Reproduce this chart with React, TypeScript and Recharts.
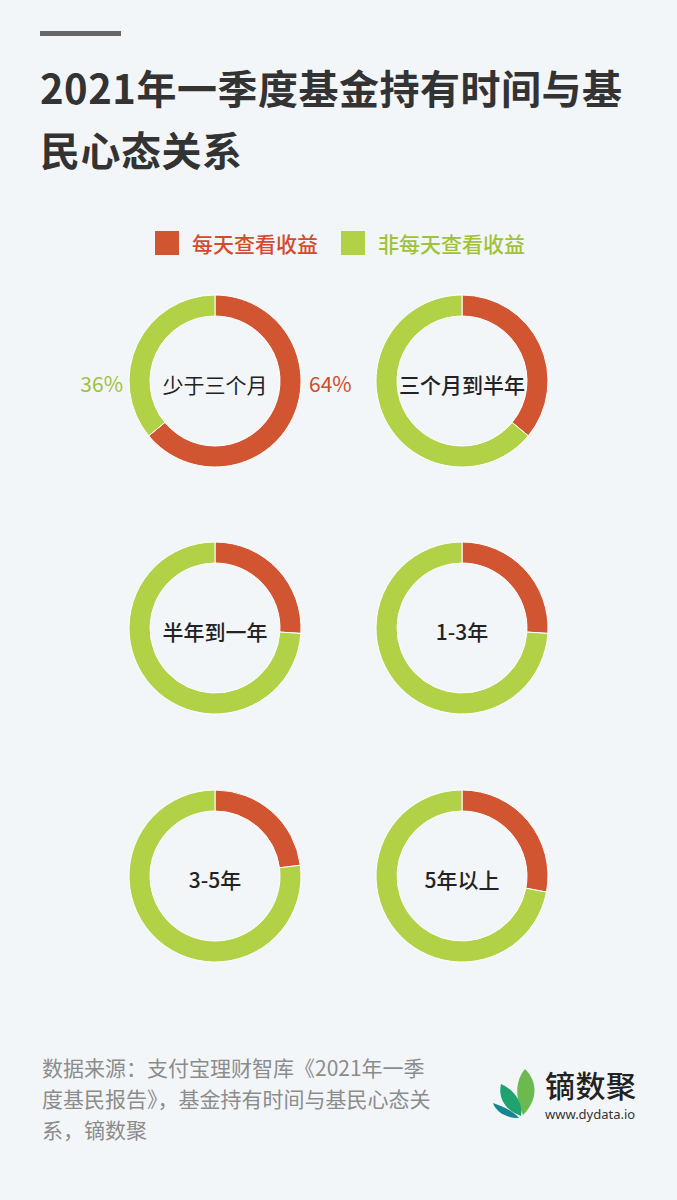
import React from 'react';
import { PieChart, Pie, Cell } from 'recharts';

// 持有时间分组
const categories = ['少于三个月', '三个月到半年', '半年到一年', '1-3年', '3-5年', '5年以上'];
// 每天查看收益 (%)
const dailyShare = [64, 36, 26, 26, 23, 28];
// 非每天查看收益 (%)
const nonDailyShare = [36, 64, 74, 74, 77, 72];
const seriesNames = ['每天查看收益', '非每天查看收益'];

const sliceColors = ['#d15530', '#b1d147'];
const textColors = ['#d24b2b', '#9fc23b'];
const bg = '#f3f6f9';
const font = '"Noto Sans CJK SC", "Noto Sans", sans-serif';

const centers: Array<[number, number]> = [
  [215, 381],
  [462, 381],
  [215, 628],
  [462, 628],
  [215, 876],
  [462, 876],
];

// centre caption + (first ring only) the share labels either side
const makeLabel = (pieIndex: number) => (props: any) => {
  const { cx, cy, outerRadius, index, value } = props;
  const caption =
    index === 0 ? (
      <text
        x={cx}
        y={cy + 12}
        textAnchor="middle"
        fill="#222"
        fontSize={21}
        fontWeight={pieIndex === 0 ? 400 : 500}
        fontFamily={font}
      >
        {categories[pieIndex]}
      </text>
    ) : null;
  if (pieIndex !== 0) return caption ?? <g />;
  const right = index === 0;
  return (
    <g>
      {caption}
      <text
        x={right ? cx + outerRadius + 8 : cx - outerRadius - 6}
        y={cy + 11}
        textAnchor={right ? 'start' : 'end'}
        fill={textColors[index]}
        fontSize={21}
        fontFamily={font}
      >
        {`${value}%`}
      </text>
    </g>
  );
};

function Logo() {
  return (
    <div style={{ position: 'absolute', left: 492, top: 1066, width: 150, height: 56 }}>
      <svg width={48} height={54} style={{ position: 'absolute', left: 0, top: 0 }}>
        <path d="M33 3 C 46 16, 46 34, 31 49 C 24 34, 22 16, 33 3 Z" fill="#6cb94f" />
        <path d="M29 50 C 12 44, 6 31, 9 18 C 23 24, 31 37, 29 50 Z" fill="#1fa26f" />
        <path d="M27 52 C 14 52, 4 46, 1 37 C 12 41, 21 45, 27 52 Z" fill="#17868f" />
      </svg>
      <div
        style={{
          position: 'absolute',
          left: 53,
          top: 2,
          fontSize: 30,
          lineHeight: '32px',
          fontWeight: 500,
          color: '#222',
          whiteSpace: 'nowrap',
          letterSpacing: 0.5,
        }}
      >
        镝数聚
      </div>
      <div
        style={{
          position: 'absolute',
          left: 53,
          top: 41,
          fontSize: 13,
          lineHeight: '15px',
          color: '#333',
          fontFamily: '"Noto Sans", sans-serif',
          whiteSpace: 'nowrap',
        }}
      >
        www.dydata.io
      </div>
    </div>
  );
}

export default function App() {
  return (
    <div
      style={{
        position: 'absolute',
        left: 0,
        top: 0,
        width: 677,
        height: 1200,
        background: bg,
        fontFamily: font,
        overflow: 'hidden',
      }}
    >
      <div style={{ position: 'absolute', left: 40, top: 31, width: 81, height: 5, background: '#666' }} />
      <div
        style={{
          position: 'absolute',
          left: 40,
          top: 56,
          width: 620,
          fontSize: 40,
          lineHeight: '62px',
          fontWeight: 700,
          color: '#333',
          letterSpacing: 0.5,
          whiteSpace: 'nowrap',
        }}
      >
        2021年一季度基金持有时间与基
        <br />
        民心态关系
      </div>

      {seriesNames.map((name, i) => (
        <div
          key={name}
          style={{
            position: 'absolute',
            left: i === 0 ? 155 : 341,
            top: 231,
            height: 24,
            display: 'flex',
            alignItems: 'center',
            whiteSpace: 'nowrap',
          }}
        >
          <div style={{ width: 24, height: 24, background: sliceColors[i], marginRight: 13 }} />
          <span style={{ fontSize: 21, color: textColors[i], fontWeight: 500 }}>{name}</span>
        </div>
      ))}

      <div style={{ position: 'absolute', left: 0, top: 0 }}>
        <PieChart width={677} height={1200} margin={{ top: 0, right: 0, bottom: 0, left: 0 }}>
          {categories.map((cat, i) => {
            const data = [
              { name: seriesNames[0], value: dailyShare[i] },
              { name: seriesNames[1], value: nonDailyShare[i] },
            ];
            return (
              <Pie
                key={cat}
                data={data}
                dataKey="value"
                nameKey="name"
                cx={centers[i][0]}
                cy={centers[i][1]}
                innerRadius={65}
                outerRadius={86}
                startAngle={90}
                endAngle={-270}
                stroke="#ffffff"
                strokeWidth={1}
                isAnimationActive={false}
                label={makeLabel(i)}
                labelLine={false}
              >
                {data.map((d, j) => (
                  <Cell key={d.name} fill={sliceColors[j]} />
                ))}
              </Pie>
            );
          })}
        </PieChart>
      </div>

      <div
        style={{
          position: 'absolute',
          left: 42,
          top: 1052,
          width: 440,
          fontSize: 21,
          lineHeight: '31px',
          color: '#8c8c8c',
          whiteSpace: 'nowrap',
        }}
      >
        数据来源：支付宝理财智库《2021年一季
        <br />
        度基民报告》，基金持有时间与基民心态关
        <br />
        系，镝数聚
      </div>

      <Logo />
    </div>
  );
}
